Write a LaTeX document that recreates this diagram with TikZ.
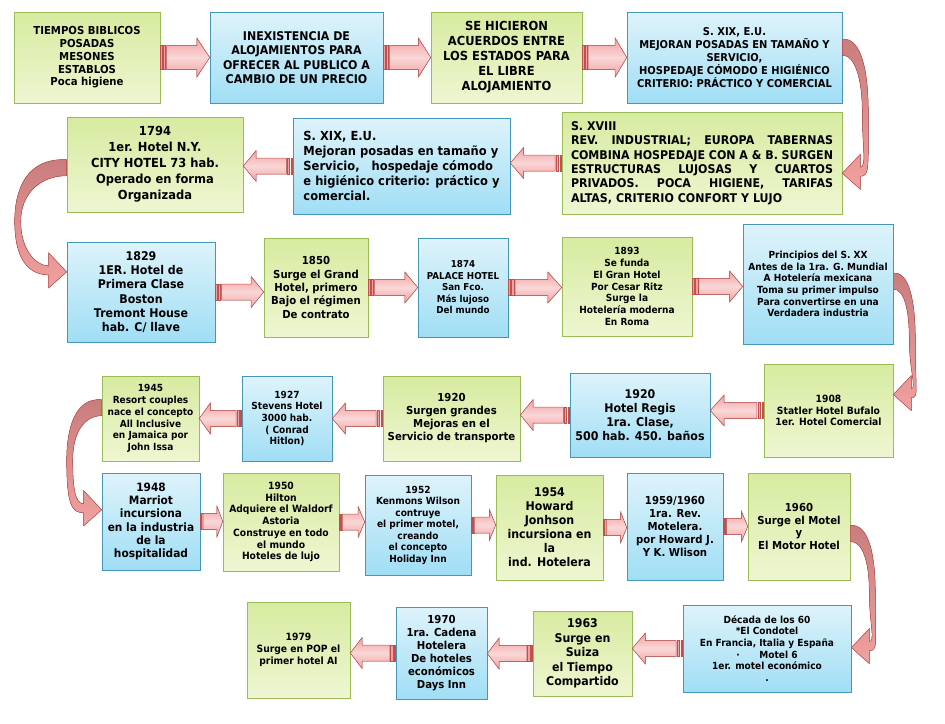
\documentclass[tikz,border=0pt]{standalone}
\usepackage{fontspec}
\setmainfont{DejaVu Sans}[FakeStretch=0.92]
\usetikzlibrary{calc, shadows}
\definecolor{azularriba}{RGB}{222,243,251}
\definecolor{azulabajo}{RGB}{160,222,245}
\definecolor{bordeazul}{RGB}{70,150,185}
\definecolor{verdearriba}{RGB}{215,235,160}
\definecolor{verdeabajo}{RGB}{238,246,210}
\definecolor{bordeverde}{RGB}{155,187,89}
\definecolor{rosa}{RGB}{242,160,160}
\definecolor{rosaclaro}{RGB}{250,215,215}
\definecolor{bordeflecha}{RGB}{192,80,77}
\definecolor{curvaoscura}{RGB}{200,125,125}

\tikzset{
  caja/.style={draw, line width=0.6pt, align=center, inner sep=2pt,
    drop shadow={shadow xshift=1.2pt, shadow yshift=-1.2pt, fill=black, opacity=0.25}},
  azul/.style={caja, draw=bordeazul, top color=azularriba, bottom color=azulabajo},
  verde/.style={caja, draw=bordeverde, top color=verdearriba, bottom color=verdeabajo},
  dim/.style 2 args={minimum width=#1, minimum height=#2},
  tam/.style 2 args={font=\fontsize{#1}{#2}\selectfont\bfseries},
  raya/.style={draw=bordeflecha, line width=0.5pt, fill=rosa},
  cuerpo/.style={draw=bordeflecha, line width=0.5pt, top color=rosa, bottom color=rosa, middle color=rosaclaro},
  curvo/.style={draw=bordeflecha, line width=0.5pt, top color=curvaoscura, bottom color=rosa},
}

% flecha de bloque entre dos anclas (opcional: medio alto del cuerpo)
\newcommand{\flecha}[3][8]{%
  \filldraw[raya] let \p1=(#2), \p2=(#3), \n1={\x2-\x1} in
    (\x1,{\y1-#1pt}) rectangle ({\x1+0.035*\n1},{\y1+#1pt})
    ({\x1+0.06*\n1},{\y1-#1pt}) rectangle ({\x1+0.11*\n1},{\y1+#1pt});
  \filldraw[cuerpo] let \p1=(#2), \p2=(#3), \n1={\x2-\x1} in
    ({\x1+0.13*\n1},{\y1-#1pt}) -- ({\x1+0.74*\n1},{\y1-#1pt}) -- ({\x1+0.74*\n1},{\y1-#1pt-7.5pt})
    -- (\x2,\y1) -- ({\x1+0.74*\n1},{\y1+#1pt+7.5pt}) -- ({\x1+0.74*\n1},{\y1+#1pt})
    -- ({\x1+0.13*\n1},{\y1+#1pt}) -- cycle;
}
% flecha curva: inicio, punta, abombado con signo (+ derecha, - izquierda)
\newcommand{\curva}[3]{%
  \filldraw[curvo] let \p1=(#1), \p2=(#2), \n1={#3/abs(#3)}, \n3={abs(#3)}, \n2={\y1-\y2} in
    (\x1,\y1) .. controls ({\x1+\n1*0.75*\n3},{\y1+2pt}) and ({\x1+\n1*\n3},{\y1-0.25*\n2})
    .. ({\x1+\n1*\n3},{\y1-0.55*\n2})
    .. controls ({\x1+\n1*\n3},{\y2-3pt+0.25*\n3}) and ({\x2+\n1*(18+0.35*\n3)},{\y2-3pt})
    .. ({\x2+\n1*18pt},{\y2-3pt})
    -- ({\x2+\n1*18pt},{\y2-16pt}) -- (\x2,\y2) -- ({\x2+\n1*18pt},{\y2+19pt}) -- ({\x2+\n1*18pt},{\y2+6pt})
    .. controls ({\x2+\n1*(18+0.25*\n3)},{\y2+6pt}) and ({\x1+\n1*(\n3-6)},{\y2+0.2*\n2})
    .. ({\x1+\n1*(\n3-6)},{\y1-0.55*\n2})
    .. controls ({\x1+\n1*(\n3-6)},{\y1-0.3*\n2}) and ({\x1+\n1*0.5*\n3},{\y1-16pt})
    .. (\x1,{\y1-16pt}) -- cycle;
}

\begin{document}
\begin{tikzpicture}[x=1pt, y=-1pt]
\useasboundingbox (0,0) rectangle (945,723);

% Fila 1
\node[verde, dim={146}{91}, tam={11}{12.7}] (b1) at (87,57.5) {TIEMPOS BIBLICOS\\POSADAS\\MESONES\\ESTABLOS\\Poca higiene};
\node[azul, dim={173}{91}, tam={12}{14.3}] (b2) at (296.5,57.5) {INEXISTENCIA DE\\ALOJAMIENTOS PARA\\OFRECER AL PUBLICO A\\CAMBIO DE UN PRECIO};
\node[verde, dim={151}{91}, tam={12.5}{15}] (b3) at (506.5,57.5) {SE HICIERON\\ACUERDOS ENTRE\\LOS ESTADOS PARA\\EL LIBRE\\ALOJAMIENTO};
\node[azul, dim={215}{91}, tam={10.8}{13}] (b4) at (734.5,57.5) {S. XIX, E.U.\\MEJORAN POSADAS EN TAMAÑO Y\\SERVICIO,\\HOSPEDAJE CÓMODO E HIGIÉNICO\\CRITERIO: PRÁCTICO Y COMERCIAL};

% Fila 2
\node[verde, dim={176}{95}, tam={12.5}{16}] (c1) at (155,164.5) {1794\\1er. Hotel N.Y.\\CITY HOTEL 73 hab.\\Operado en forma\\Organizada};
\node[azul, dim={217}{96}, tam={12.5}{15}, align=left] (c2) at (401.5,166) {S. XIX, E.U.\\Mejoran posadas en tamaño y\\Servicio,\ \ \ hospedaje cómodo\\e higiénico criterio: práctico y\\comercial.};
\node[verde, dim={280}{102}, tam={12}{14.3}, align=left, text width=262] (c3) at (702,163) {S. XVIII\\REV.\hfill INDUSTRIAL;\hfill EUROPA\hfill TABERNAS\\COMBINA\hfill HOSPEDAJE\hfill CON\hfill A \&\hfill B.\hfill SURGEN\\ESTRUCTURAS\hfill LUJOSAS\hfill Y\hfill CUARTOS\\PRIVADOS.\hfill POCA\hfill HIGIENE,\hfill TARIFAS\\ALTAS, CRITERIO CONFORT Y LUJO};

% Fila 3
\node[azul, dim={148}{100}, tam={12}{14.3}] (d1) at (141,292) {1829\\1ER. Hotel de\\Primera Clase\\Boston\\Tremont House\\hab. C/ llave};
\node[verde, dim={104}{99}, tam={11}{13.3}] (d2) at (316,287.5) {1850\\Surge el Grand\\Hotel, primero\\Bajo el régimen\\De contrato};
\node[azul, dim={90}{99}, tam={9.5}{11.5}] (d3) at (463,287.5) {1874\\PALACE HOTEL\\San Fco.\\Más lujoso\\Del mundo};
\node[verde, dim={130}{99}, tam={9.8}{11.7}] (d4) at (627,286.5) {1893\\Se funda\\El Gran Hotel\\Por Cesar Ritz\\Surge la\\Hotelería moderna\\En Roma};
\node[azul, dim={150}{120}, tam={9.8}{11.7}] (d5) at (818,284) {Principios del S. XX\\Antes de la 1ra. G. Mundial\\A Hotelería mexicana\\Toma su primer impulso\\Para convertirse en una\\Verdadera industria};

% Fila 4
\node[verde, dim={97}{85}, tam={9.8}{11.7}] (e1) at (150.5,418.5) {1945\\Resort couples\\nace el concepto\\All Inclusive\\en Jamaica por\\John Issa};
\node[azul, dim={90}{85}, tam={9.8}{11.7}] (e2) at (287,418.5) {1927\\Stevens Hotel\\3000 hab.\\( Conrad\\Hitlon)};
\node[verde, dim={137}{85}, tam={11}{13}] (e3) at (451.5,418.5) {1920\\Surgen grandes\\Mejoras en el\\Servicio de transporte};
\node[azul, dim={140}{84}, tam={12}{14}] (e4) at (640,415) {1920\\Hotel Regis\\1ra. Clase,\\500 hab. 450. baños};
\node[verde, dim={129}{93}, tam={10}{11.7}] (e5) at (828.5,410.5) {1908\\Statler Hotel Bufalo\\1er. Hotel Comercial};

% Fila 5
\node[azul, dim={98}{97}, tam={11.5}{13.3}] (f1) at (151,521.5) {1948\\Marriot\\incursiona\\en la industria\\de la\\hospitalidad};
\node[verde, dim={116}{98}, tam={10}{11.7}] (f2) at (281,522) {1950\\Hilton\\Adquiere el Waldorf\\Astoria\\Construye en todo\\el mundo\\Hoteles de lujo};
\node[azul, dim={106}{100}, tam={9.8}{11.5}] (f3) at (418,525) {1952\\Kenmons Wilson\\contruye\\el primer motel,\\creando\\el concepto\\Holiday Inn};
\node[verde, dim={107}{105}, tam={12}{14}] (f4) at (549.5,527.5) {1954\\Howard\\Jonhson\\incursiona en\\la\\ind. Hotelera};
\node[azul, dim={96}{107}, tam={11}{13}] (f5) at (675,526.5) {1959/1960\\1ra. Rev.\\Motelera.\\por Howard J.\\Y K. Wlison};
\node[verde, dim={102}{107}, tam={11}{12.5}] (f6) at (799,526.5) {1960\\Surge el Motel\\y\\El Motor Hotel};

% Fila 6
\node[azul, dim={168}{87}, tam={9.8}{11.7}] (g1) at (767,648.5) {Década de los 60\\*El Condotel\\En Francia, Italia y España\\·\qquad Motel 6\\1er. motel económico\\.};
\node[verde, dim={99}{85}, tam={12}{14.5}] (g2) at (582.5,653.5) {1963\\Surge en\\Suiza\\el Tiempo\\Compartido};
\node[azul, dim={91}{92}, tam={11}{13}] (g3) at (441.5,653) {1970\\1ra. Cadena\\Hotelera\\De hoteles\\económicos\\Days Inn};
\node[verde, dim={103}{96}, tam={10}{11.7}] (g4) at (298.5,650) {1979\\Surge en POP el\\primer hotel AI};

% Flechas de bloque
\flecha[12]{b1.east}{b2.west}
\flecha[12]{b2.east}{b3.west}
\flecha[12]{b3.east}{b4.west}
\flecha{c3.west}{c2.east}
\flecha{c2.west}{c1.east}
\flecha{d1.east}{d2.west}
\flecha{d2.east}{d3.west}
\flecha{d3.east}{d4.west}
\flecha{d4.east}{d5.west}
\flecha{e5.west}{e4.east}
\flecha{e4.west}{e3.east}
\flecha{e3.west}{e2.east}
\flecha{e2.west}{e1.east}
\flecha{f1.east}{f2.west}
\flecha{f2.east}{f3.west}
\flecha{f3.east}{f4.west}
\flecha{f4.east}{f5.west}
\flecha{f5.east}{f6.west}
\flecha{g1.west}{g2.east}
\flecha{g2.west}{g3.east}
\flecha{g3.west}{g4.east}

% Flechas curvas entre filas
\curva{$(b4.north east)!0.3!(b4.south east)$}{$(c3.north east)!0.6!(c3.south east)$}{26}
\curva{$(c1.north west)!0.45!(c1.south west)$}{$(d1.north west)!0.3!(d1.south west)$}{-52}
\curva{$(d5.north east)!0.41!(d5.south east)$}{$(e5.north east)!0.33!(e5.south east)$}{22}
\curva{$(e1.north west)!0.28!(e1.south west)$}{$(f1.north west)!0.38!(f1.south west)$}{-35}
\curva{$(f6.north east)!0.49!(f6.south east)$}{$(g1.north east)!0.49!(g1.south east)$}{25}
\end{tikzpicture}
\end{document}
